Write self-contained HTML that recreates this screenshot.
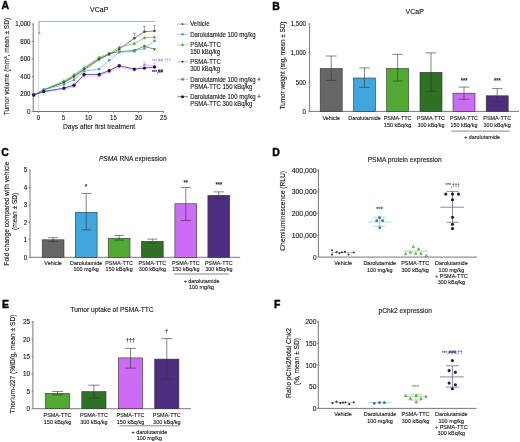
<!DOCTYPE html>
<html><head><meta charset="utf-8"><style>
html,body{margin:0;padding:0;background:#fff;}
body{width:520px;height:442px;overflow:hidden;}
svg{display:block;filter:blur(0.3px);font-family:"Liberation Sans", sans-serif;}
</style></head><body>
<svg width="520" height="442" viewBox="0 0 520 442">
<rect width="520" height="442" fill="#fff"/>
<text transform="translate(5.25 5.50) scale(1 1.05)" y="3.638" font-size="10.5" text-anchor="middle" fill="#000" stroke="#000" stroke-width="0.4" font-weight="bold">A</text>
<text transform="translate(276.00 6.00) scale(1 1.05)" y="3.638" font-size="10.5" text-anchor="middle" fill="#000" stroke="#000" stroke-width="0.4" font-weight="bold">B</text>
<text transform="translate(5.00 152.00) scale(1 1.05)" y="3.638" font-size="10.5" text-anchor="middle" fill="#000" stroke="#000" stroke-width="0.4" font-weight="bold">C</text>
<text transform="translate(276.00 152.30) scale(1 1.05)" y="3.638" font-size="10.5" text-anchor="middle" fill="#000" stroke="#000" stroke-width="0.4" font-weight="bold">D</text>
<text transform="translate(5.40 304.60) scale(1 1.05)" y="3.638" font-size="10.5" text-anchor="middle" fill="#000" stroke="#000" stroke-width="0.4" font-weight="bold">E</text>
<text transform="translate(277.20 304.50) scale(1 1.05)" y="3.638" font-size="10.5" text-anchor="middle" fill="#000" stroke="#000" stroke-width="0.4" font-weight="bold">F</text>
<text transform="translate(99.20 9.50) scale(1 1.1)" y="2.425" font-size="7" text-anchor="middle" fill="#1a1a1a" stroke="#1a1a1a" stroke-width="0.12">VCaP</text>
<line x1="33.20" y1="23.50" x2="33.20" y2="111.50" stroke="#555" stroke-width="0.8"/>
<line x1="31.70" y1="111.50" x2="33.20" y2="111.50" stroke="#555" stroke-width="0.6"/>
<text transform="translate(30.50 111.50) scale(1 1.1)" y="2.114" font-size="6.1" text-anchor="end" fill="#1a1a1a" stroke="#1a1a1a" stroke-width="0.12">0</text>
<line x1="31.70" y1="94.00" x2="33.20" y2="94.00" stroke="#555" stroke-width="0.6"/>
<text transform="translate(30.50 94.00) scale(1 1.1)" y="2.114" font-size="6.1" text-anchor="end" fill="#1a1a1a" stroke="#1a1a1a" stroke-width="0.12">200</text>
<line x1="31.70" y1="76.50" x2="33.20" y2="76.50" stroke="#555" stroke-width="0.6"/>
<text transform="translate(30.50 76.50) scale(1 1.1)" y="2.114" font-size="6.1" text-anchor="end" fill="#1a1a1a" stroke="#1a1a1a" stroke-width="0.12">400</text>
<line x1="31.70" y1="59.00" x2="33.20" y2="59.00" stroke="#555" stroke-width="0.6"/>
<text transform="translate(30.50 59.00) scale(1 1.1)" y="2.114" font-size="6.1" text-anchor="end" fill="#1a1a1a" stroke="#1a1a1a" stroke-width="0.12">600</text>
<line x1="31.70" y1="41.50" x2="33.20" y2="41.50" stroke="#555" stroke-width="0.6"/>
<text transform="translate(30.50 41.50) scale(1 1.1)" y="2.114" font-size="6.1" text-anchor="end" fill="#1a1a1a" stroke="#1a1a1a" stroke-width="0.12">800</text>
<line x1="31.70" y1="24.00" x2="33.20" y2="24.00" stroke="#555" stroke-width="0.6"/>
<text transform="translate(30.50 24.00) scale(1 1.1)" y="2.114" font-size="6.1" text-anchor="end" fill="#1a1a1a" stroke="#1a1a1a" stroke-width="0.12">1,000</text>
<line x1="33.20" y1="111.50" x2="164.00" y2="111.50" stroke="#555" stroke-width="0.8"/>
<line x1="38.50" y1="111.50" x2="38.50" y2="113.00" stroke="#555" stroke-width="0.6"/>
<text transform="translate(38.50 117.30) scale(1 1.1)" y="2.114" font-size="6.1" text-anchor="middle" fill="#1a1a1a" stroke="#1a1a1a" stroke-width="0.12">0</text>
<line x1="63.50" y1="111.50" x2="63.50" y2="113.00" stroke="#555" stroke-width="0.6"/>
<text transform="translate(63.50 117.30) scale(1 1.1)" y="2.114" font-size="6.1" text-anchor="middle" fill="#1a1a1a" stroke="#1a1a1a" stroke-width="0.12">5</text>
<line x1="88.50" y1="111.50" x2="88.50" y2="113.00" stroke="#555" stroke-width="0.6"/>
<text transform="translate(88.50 117.30) scale(1 1.1)" y="2.114" font-size="6.1" text-anchor="middle" fill="#1a1a1a" stroke="#1a1a1a" stroke-width="0.12">10</text>
<line x1="113.50" y1="111.50" x2="113.50" y2="113.00" stroke="#555" stroke-width="0.6"/>
<text transform="translate(113.50 117.30) scale(1 1.1)" y="2.114" font-size="6.1" text-anchor="middle" fill="#1a1a1a" stroke="#1a1a1a" stroke-width="0.12">15</text>
<line x1="138.50" y1="111.50" x2="138.50" y2="113.00" stroke="#555" stroke-width="0.6"/>
<text transform="translate(138.50 117.30) scale(1 1.1)" y="2.114" font-size="6.1" text-anchor="middle" fill="#1a1a1a" stroke="#1a1a1a" stroke-width="0.12">20</text>
<line x1="163.50" y1="111.50" x2="163.50" y2="113.00" stroke="#555" stroke-width="0.6"/>
<text transform="translate(163.50 117.30) scale(1 1.1)" y="2.114" font-size="6.1" text-anchor="middle" fill="#1a1a1a" stroke="#1a1a1a" stroke-width="0.12">25</text>
<text transform="translate(99.10 126.70) scale(1 1.1)" y="2.287" font-size="6.6" text-anchor="middle" fill="#1a1a1a" stroke="#1a1a1a" stroke-width="0.12">Days after first treatment</text>
<text transform="translate(6.60 66.60) rotate(-90)" y="2.270" font-size="6.55" text-anchor="middle" fill="#1a1a1a" stroke="#1a1a1a" stroke-width="0.12">Tumor volume (mm<tspan font-size="4.2" dy="-2">3</tspan><tspan dy="2">, mean ± SD)</tspan></text>
<line x1="38.60" y1="21.50" x2="38.60" y2="111.50" stroke="#aaa" stroke-width="0.5"/>
<line x1="38.60" y1="21.50" x2="155.40" y2="21.50" stroke="#6aa0c8" stroke-width="0.7"/>
<line x1="39.30" y1="22.00" x2="39.30" y2="33.00" stroke="#77b050" stroke-width="0.6"/>
<path d="M39.30,31.80 L40.40,33.80 L38.20,33.80 Z" fill="#77b050" stroke="#77b050" stroke-width="0.45"/>
<polyline points="33.77,95.00 43.83,90.00 63.95,82.00 74.01,76.00 84.07,69.00 99.16,58.50 109.22,54.50 119.28,49.00 134.37,38.30 144.43,31.70 154.49,30.90" fill="none" stroke="#5a5a5a" stroke-width="0.75"/>
<line x1="134.37" y1="33.30" x2="134.37" y2="38.30" stroke="#5a5a5a" stroke-width="0.5"/>
<line x1="132.97" y1="33.30" x2="135.77" y2="33.30" stroke="#5a5a5a" stroke-width="0.5"/>
<line x1="144.43" y1="26.50" x2="144.43" y2="31.70" stroke="#5a5a5a" stroke-width="0.5"/>
<line x1="143.03" y1="26.50" x2="145.83" y2="26.50" stroke="#5a5a5a" stroke-width="0.5"/>
<line x1="154.49" y1="25.60" x2="154.49" y2="30.90" stroke="#5a5a5a" stroke-width="0.5"/>
<line x1="153.09" y1="25.60" x2="155.89" y2="25.60" stroke="#5a5a5a" stroke-width="0.5"/>
<circle cx="33.77" cy="95.00" r="1.25" fill="#444444" stroke="none" stroke-width="0.5"/>
<circle cx="43.83" cy="90.00" r="1.25" fill="#444444" stroke="none" stroke-width="0.5"/>
<circle cx="63.95" cy="82.00" r="1.25" fill="#444444" stroke="none" stroke-width="0.5"/>
<circle cx="74.01" cy="76.00" r="1.25" fill="#444444" stroke="none" stroke-width="0.5"/>
<circle cx="84.07" cy="69.00" r="1.25" fill="#444444" stroke="none" stroke-width="0.5"/>
<circle cx="99.16" cy="58.50" r="1.25" fill="#444444" stroke="none" stroke-width="0.5"/>
<circle cx="109.22" cy="54.50" r="1.25" fill="#444444" stroke="none" stroke-width="0.5"/>
<circle cx="119.28" cy="49.00" r="1.25" fill="#444444" stroke="none" stroke-width="0.5"/>
<circle cx="134.37" cy="38.30" r="1.25" fill="#444444" stroke="none" stroke-width="0.5"/>
<circle cx="144.43" cy="31.70" r="1.25" fill="#444444" stroke="none" stroke-width="0.5"/>
<circle cx="154.49" cy="30.90" r="1.25" fill="#444444" stroke="none" stroke-width="0.5"/>
<polyline points="33.77,95.00 43.83,89.50 63.95,81.00 74.01,74.60 84.07,67.70 99.16,57.30 109.22,53.50 119.28,47.20 134.37,43.50 144.43,37.80 154.49,37.10" fill="none" stroke="#6cbf4c" stroke-width="0.75"/>
<path d="M33.77,93.62 L35.03,95.92 L32.50,95.92 Z" fill="#4f9a37" stroke="#4f9a37" stroke-width="0.45"/>
<path d="M43.83,88.12 L45.09,90.42 L42.56,90.42 Z" fill="#4f9a37" stroke="#4f9a37" stroke-width="0.45"/>
<path d="M63.95,79.62 L65.22,81.92 L62.69,81.92 Z" fill="#4f9a37" stroke="#4f9a37" stroke-width="0.45"/>
<path d="M74.01,73.22 L75.27,75.52 L72.74,75.52 Z" fill="#4f9a37" stroke="#4f9a37" stroke-width="0.45"/>
<path d="M84.07,66.32 L85.33,68.62 L82.80,68.62 Z" fill="#4f9a37" stroke="#4f9a37" stroke-width="0.45"/>
<path d="M99.16,55.92 L100.42,58.22 L97.89,58.22 Z" fill="#4f9a37" stroke="#4f9a37" stroke-width="0.45"/>
<path d="M109.22,52.12 L110.48,54.42 L107.95,54.42 Z" fill="#4f9a37" stroke="#4f9a37" stroke-width="0.45"/>
<path d="M119.28,45.82 L120.55,48.12 L118.02,48.12 Z" fill="#4f9a37" stroke="#4f9a37" stroke-width="0.45"/>
<path d="M134.37,42.12 L135.63,44.42 L133.11,44.42 Z" fill="#4f9a37" stroke="#4f9a37" stroke-width="0.45"/>
<path d="M144.43,36.42 L145.69,38.72 L143.17,38.72 Z" fill="#4f9a37" stroke="#4f9a37" stroke-width="0.45"/>
<path d="M154.49,35.72 L155.75,38.02 L153.23,38.02 Z" fill="#4f9a37" stroke="#4f9a37" stroke-width="0.45"/>
<polyline points="33.77,95.00 43.83,90.00 63.95,82.50 74.01,76.90 84.07,69.80 99.16,59.60 109.22,53.70 119.28,51.60 134.37,50.50 144.43,46.20 154.49,49.30" fill="none" stroke="#3b7d2e" stroke-width="0.75"/>
<path d="M33.77,96.38 L35.03,94.08 L32.50,94.08 Z" fill="#2c6a22" stroke="#2c6a22" stroke-width="0.3"/>
<path d="M43.83,91.38 L45.09,89.08 L42.56,89.08 Z" fill="#2c6a22" stroke="#2c6a22" stroke-width="0.3"/>
<path d="M63.95,83.88 L65.22,81.58 L62.69,81.58 Z" fill="#2c6a22" stroke="#2c6a22" stroke-width="0.3"/>
<path d="M74.01,78.28 L75.27,75.98 L72.74,75.98 Z" fill="#2c6a22" stroke="#2c6a22" stroke-width="0.3"/>
<path d="M84.07,71.18 L85.33,68.88 L82.80,68.88 Z" fill="#2c6a22" stroke="#2c6a22" stroke-width="0.3"/>
<path d="M99.16,60.98 L100.42,58.68 L97.89,58.68 Z" fill="#2c6a22" stroke="#2c6a22" stroke-width="0.3"/>
<path d="M109.22,55.08 L110.48,52.78 L107.95,52.78 Z" fill="#2c6a22" stroke="#2c6a22" stroke-width="0.3"/>
<path d="M119.28,52.98 L120.55,50.68 L118.02,50.68 Z" fill="#2c6a22" stroke="#2c6a22" stroke-width="0.3"/>
<path d="M134.37,51.88 L135.63,49.58 L133.11,49.58 Z" fill="#2c6a22" stroke="#2c6a22" stroke-width="0.3"/>
<path d="M144.43,47.58 L145.69,45.28 L143.17,45.28 Z" fill="#2c6a22" stroke="#2c6a22" stroke-width="0.3"/>
<path d="M154.49,50.68 L155.75,48.38 L153.23,48.38 Z" fill="#2c6a22" stroke="#2c6a22" stroke-width="0.3"/>
<polyline points="33.77,95.00 43.83,90.00 63.95,84.40 74.01,79.80 84.07,71.10 99.16,69.10 109.22,60.20 119.28,52.30 134.37,51.40 144.43,48.50 154.49,40.80" fill="none" stroke="#5cb3e3" stroke-width="0.75"/>
<rect x="32.57" y="93.80" width="2.40" height="2.40" fill="#4a98c8"/>
<rect x="42.63" y="88.80" width="2.40" height="2.40" fill="#4a98c8"/>
<rect x="62.75" y="83.20" width="2.40" height="2.40" fill="#4a98c8"/>
<rect x="72.81" y="78.60" width="2.40" height="2.40" fill="#4a98c8"/>
<rect x="82.87" y="69.90" width="2.40" height="2.40" fill="#4a98c8"/>
<rect x="97.96" y="67.90" width="2.40" height="2.40" fill="#4a98c8"/>
<rect x="108.02" y="59.00" width="2.40" height="2.40" fill="#4a98c8"/>
<rect x="118.08" y="51.10" width="2.40" height="2.40" fill="#4a98c8"/>
<rect x="133.17" y="50.20" width="2.40" height="2.40" fill="#4a98c8"/>
<rect x="143.23" y="47.30" width="2.40" height="2.40" fill="#4a98c8"/>
<rect x="153.29" y="39.60" width="2.40" height="2.40" fill="#4a98c8"/>
<polyline points="33.77,95.00 43.83,92.00 63.95,89.20 74.01,86.40 84.07,76.20 99.16,75.80 109.22,72.00 119.28,67.00 134.37,70.30 144.43,64.75 154.49,66.30" fill="none" stroke="#e0a0f8" stroke-width="0.75"/>
<line x1="119.28" y1="70.50" x2="119.28" y2="67.00" stroke="#e0a0f8" stroke-width="0.5"/>
<line x1="117.88" y1="70.50" x2="120.68" y2="70.50" stroke="#e0a0f8" stroke-width="0.5"/>
<line x1="144.43" y1="61.90" x2="144.43" y2="64.75" stroke="#e0a0f8" stroke-width="0.5"/>
<line x1="143.03" y1="61.90" x2="145.83" y2="61.90" stroke="#e0a0f8" stroke-width="0.5"/>
<line x1="154.49" y1="63.50" x2="154.49" y2="66.30" stroke="#e0a0f8" stroke-width="0.5"/>
<line x1="153.09" y1="63.50" x2="155.89" y2="63.50" stroke="#e0a0f8" stroke-width="0.5"/>
<rect x="32.67" y="93.90" width="2.20" height="2.20" fill="#c878f0"/>
<rect x="42.73" y="90.90" width="2.20" height="2.20" fill="#c878f0"/>
<rect x="62.85" y="88.10" width="2.20" height="2.20" fill="#c878f0"/>
<rect x="72.91" y="85.30" width="2.20" height="2.20" fill="#c878f0"/>
<rect x="82.97" y="75.10" width="2.20" height="2.20" fill="#c878f0"/>
<rect x="98.06" y="74.70" width="2.20" height="2.20" fill="#c878f0"/>
<rect x="108.12" y="70.90" width="2.20" height="2.20" fill="#c878f0"/>
<rect x="118.18" y="65.90" width="2.20" height="2.20" fill="#c878f0"/>
<rect x="133.27" y="69.20" width="2.20" height="2.20" fill="#c878f0"/>
<rect x="143.33" y="63.65" width="2.20" height="2.20" fill="#c878f0"/>
<rect x="153.39" y="65.20" width="2.20" height="2.20" fill="#c878f0"/>
<polyline points="33.77,95.00 43.83,91.50 63.95,88.10 74.01,85.20 84.07,74.40 99.16,74.40 109.22,70.60 119.28,65.60 134.37,69.10 144.43,68.10 154.49,67.10" fill="none" stroke="#3b2470" stroke-width="0.75"/>
<circle cx="33.77" cy="95.00" r="1.7" fill="#2b1155" stroke="none" stroke-width="0.5"/>
<circle cx="43.83" cy="91.50" r="1.7" fill="#2b1155" stroke="none" stroke-width="0.5"/>
<circle cx="63.95" cy="88.10" r="1.7" fill="#2b1155" stroke="none" stroke-width="0.5"/>
<circle cx="74.01" cy="85.20" r="1.7" fill="#2b1155" stroke="none" stroke-width="0.5"/>
<circle cx="84.07" cy="74.40" r="1.7" fill="#2b1155" stroke="none" stroke-width="0.5"/>
<circle cx="99.16" cy="74.40" r="1.7" fill="#2b1155" stroke="none" stroke-width="0.5"/>
<circle cx="109.22" cy="70.60" r="1.7" fill="#2b1155" stroke="none" stroke-width="0.5"/>
<circle cx="119.28" cy="65.60" r="1.7" fill="#2b1155" stroke="none" stroke-width="0.5"/>
<circle cx="134.37" cy="69.10" r="1.7" fill="#2b1155" stroke="none" stroke-width="0.5"/>
<circle cx="144.43" cy="68.10" r="1.7" fill="#2b1155" stroke="none" stroke-width="0.5"/>
<circle cx="154.49" cy="67.10" r="1.7" fill="#2b1155" stroke="none" stroke-width="0.5"/>
<text transform="translate(151.90 60.50) scale(1 1.1)" y="1.490" font-size="4.3" text-anchor="start" fill="#b46ae6"><tspan dy="0.9">***</tspan><tspan dy="-0.9">,##,†††</tspan></text>
<text transform="translate(151.90 71.70) scale(1 1.1)" y="1.490" font-size="4.3" text-anchor="start" fill="#2b1155" stroke="#2b1155" stroke-width="0.15"><tspan dy="0.9">***</tspan><tspan dy="-0.9">,##</tspan></text>
<line x1="177.40" y1="24.10" x2="188.00" y2="24.10" stroke="#8a8a8a" stroke-width="0.7"/>
<circle cx="182.50" cy="24.10" r="0.9" fill="#333333" stroke="none" stroke-width="0.5"/>
<text transform="translate(190.20 24.10) scale(1 1.1)" y="2.079" font-size="6.0" text-anchor="start" fill="#1a1a1a" stroke="#1a1a1a" stroke-width="0.12">Vehicle</text>
<line x1="177.40" y1="34.30" x2="188.00" y2="34.30" stroke="#6ab4e4" stroke-width="0.7"/>
<rect x="181.40" y="33.20" width="2.20" height="2.20" fill="#4a90c4"/>
<text transform="translate(190.20 34.30) scale(1 1.1)" y="2.079" font-size="6.0" text-anchor="start" fill="#1a1a1a" stroke="#1a1a1a" stroke-width="0.12">Darolutamide 100 mg/kg</text>
<line x1="177.40" y1="44.70" x2="188.00" y2="44.70" stroke="#8fd07a" stroke-width="0.7"/>
<path d="M182.50,43.50 L183.60,45.50 L181.40,45.50 Z" fill="#3f8a2c" stroke="#3f8a2c" stroke-width="0.45"/>
<text transform="translate(190.20 44.70) scale(1 1.1)" y="2.079" font-size="6.0" text-anchor="start" fill="#1a1a1a" stroke="#1a1a1a" stroke-width="0.12">PSMA-TTC</text>
<text transform="translate(190.20 51.80) scale(1 1.1)" y="2.079" font-size="6.0" text-anchor="start" fill="#1a1a1a" stroke="#1a1a1a" stroke-width="0.12">150 kBq/kg</text>
<line x1="177.40" y1="61.80" x2="188.00" y2="61.80" stroke="#8aa882" stroke-width="0.7"/>
<path d="M182.50,63.00 L183.60,61.00 L181.40,61.00 Z" fill="#24561c" stroke="#24561c" stroke-width="0.3"/>
<text transform="translate(190.20 61.80) scale(1 1.1)" y="2.079" font-size="6.0" text-anchor="start" fill="#1a1a1a" stroke="#1a1a1a" stroke-width="0.12">PSMA-TTC</text>
<text transform="translate(190.20 68.90) scale(1 1.1)" y="2.079" font-size="6.0" text-anchor="start" fill="#1a1a1a" stroke="#1a1a1a" stroke-width="0.12">300 kBq/kg</text>
<line x1="177.40" y1="79.30" x2="188.00" y2="79.30" stroke="#d898f2" stroke-width="0.7"/>
<rect x="181.30" y="78.10" width="2.40" height="2.40" fill="#9050c8"/>
<text transform="translate(190.20 79.30) scale(1 1.1)" y="2.079" font-size="6.0" text-anchor="start" fill="#1a1a1a" stroke="#1a1a1a" stroke-width="0.12">Darolutamide 100 mg/kg +</text>
<text transform="translate(190.20 86.40) scale(1 1.1)" y="2.079" font-size="6.0" text-anchor="start" fill="#1a1a1a" stroke="#1a1a1a" stroke-width="0.12">PSMA-TTC 150 kBq/kg</text>
<line x1="177.40" y1="96.70" x2="188.00" y2="96.70" stroke="#4a4070" stroke-width="0.7"/>
<circle cx="182.50" cy="96.70" r="1.5" fill="#1c1040" stroke="none" stroke-width="0.5"/>
<text transform="translate(190.20 96.70) scale(1 1.1)" y="2.079" font-size="6.0" text-anchor="start" fill="#1a1a1a" stroke="#1a1a1a" stroke-width="0.12">Darolutamide 100 mg/kg +</text>
<text transform="translate(190.20 103.80) scale(1 1.1)" y="2.079" font-size="6.0" text-anchor="start" fill="#1a1a1a" stroke="#1a1a1a" stroke-width="0.12">PSMA-TTC 300 kBq/kg</text>
<text transform="translate(414.70 11.00) scale(1 1.1)" y="2.425" font-size="7" text-anchor="middle" fill="#1a1a1a" stroke="#1a1a1a" stroke-width="0.12">VCaP</text>
<line x1="309.60" y1="23.50" x2="309.60" y2="111.40" stroke="#555" stroke-width="0.8"/>
<line x1="308.10" y1="111.40" x2="309.60" y2="111.40" stroke="#555" stroke-width="0.6"/>
<text transform="translate(306.00 111.40) scale(1 1.1)" y="2.114" font-size="6.1" text-anchor="end" fill="#1a1a1a" stroke="#1a1a1a" stroke-width="0.12">0</text>
<line x1="308.10" y1="82.20" x2="309.60" y2="82.20" stroke="#555" stroke-width="0.6"/>
<text transform="translate(306.00 82.20) scale(1 1.1)" y="2.114" font-size="6.1" text-anchor="end" fill="#1a1a1a" stroke="#1a1a1a" stroke-width="0.12">500</text>
<line x1="308.10" y1="53.00" x2="309.60" y2="53.00" stroke="#555" stroke-width="0.6"/>
<text transform="translate(306.00 53.00) scale(1 1.1)" y="2.114" font-size="6.1" text-anchor="end" fill="#1a1a1a" stroke="#1a1a1a" stroke-width="0.12">1,000</text>
<line x1="308.10" y1="23.80" x2="309.60" y2="23.80" stroke="#555" stroke-width="0.6"/>
<text transform="translate(306.00 23.80) scale(1 1.1)" y="2.114" font-size="6.1" text-anchor="end" fill="#1a1a1a" stroke="#1a1a1a" stroke-width="0.12">1,500</text>
<line x1="309.60" y1="111.40" x2="519.00" y2="111.40" stroke="#555" stroke-width="0.8"/>
<text transform="translate(283.00 65.50) rotate(-90)" y="2.183" font-size="6.3" text-anchor="middle" fill="#1a1a1a" stroke="#1a1a1a" stroke-width="0.12">Tumor weight (mg, mean ± SD)</text>
<rect x="320.20" y="68.50" width="22.00" height="42.90" fill="#666666" stroke="#333" stroke-width="0.6"/>
<line x1="331.20" y1="56.00" x2="331.20" y2="80.40" stroke="#333" stroke-width="0.6"/>
<line x1="325.90" y1="56.00" x2="336.50" y2="56.00" stroke="#333" stroke-width="0.6"/>
<line x1="325.90" y1="80.40" x2="336.50" y2="80.40" stroke="#333" stroke-width="0.6"/>
<rect x="353.50" y="78.00" width="22.00" height="33.40" fill="#41a6dd" stroke="#333" stroke-width="0.6"/>
<line x1="364.50" y1="67.90" x2="364.50" y2="87.30" stroke="#333" stroke-width="0.6"/>
<line x1="359.20" y1="67.90" x2="369.80" y2="67.90" stroke="#333" stroke-width="0.6"/>
<line x1="359.20" y1="87.30" x2="369.80" y2="87.30" stroke="#333" stroke-width="0.6"/>
<rect x="386.60" y="68.50" width="22.00" height="42.90" fill="#52aa35" stroke="#333" stroke-width="0.6"/>
<line x1="397.60" y1="54.40" x2="397.60" y2="81.00" stroke="#333" stroke-width="0.6"/>
<line x1="392.30" y1="54.40" x2="402.90" y2="54.40" stroke="#333" stroke-width="0.6"/>
<line x1="392.30" y1="81.00" x2="402.90" y2="81.00" stroke="#333" stroke-width="0.6"/>
<rect x="420.00" y="72.30" width="22.00" height="39.10" fill="#2e7024" stroke="#333" stroke-width="0.6"/>
<line x1="431.00" y1="52.90" x2="431.00" y2="91.30" stroke="#333" stroke-width="0.6"/>
<line x1="425.70" y1="52.90" x2="436.30" y2="52.90" stroke="#333" stroke-width="0.6"/>
<line x1="425.70" y1="91.30" x2="436.30" y2="91.30" stroke="#333" stroke-width="0.6"/>
<rect x="453.00" y="93.20" width="22.00" height="18.20" fill="#cc6cf5" stroke="#333" stroke-width="0.6"/>
<line x1="464.00" y1="87.10" x2="464.00" y2="99.30" stroke="#333" stroke-width="0.6"/>
<line x1="458.70" y1="87.10" x2="469.30" y2="87.10" stroke="#333" stroke-width="0.6"/>
<line x1="458.70" y1="99.30" x2="469.30" y2="99.30" stroke="#333" stroke-width="0.6"/>
<rect x="486.20" y="95.80" width="22.00" height="15.60" fill="#4e2d80" stroke="#333" stroke-width="0.6"/>
<line x1="497.20" y1="88.60" x2="497.20" y2="102.00" stroke="#333" stroke-width="0.6"/>
<line x1="491.90" y1="88.60" x2="502.50" y2="88.60" stroke="#333" stroke-width="0.6"/>
<line x1="491.90" y1="102.00" x2="502.50" y2="102.00" stroke="#333" stroke-width="0.6"/>
<text transform="translate(464.00 80.30) scale(1 1.1)" y="2.010" font-size="5.8" text-anchor="middle" fill="#1a1a1a" stroke="#1a1a1a" stroke-width="0.15">***</text>
<text transform="translate(497.30 80.30) scale(1 1.1)" y="2.010" font-size="5.8" text-anchor="middle" fill="#1a1a1a" stroke="#1a1a1a" stroke-width="0.15">***</text>
<text transform="translate(331.20 118.20) scale(1 1.1)" y="1.888" font-size="5.45" text-anchor="middle" fill="#1a1a1a" stroke="#1a1a1a" stroke-width="0.12">Vehicle</text>
<text transform="translate(364.50 118.20) scale(1 1.1)" y="1.888" font-size="5.45" text-anchor="middle" fill="#1a1a1a" stroke="#1a1a1a" stroke-width="0.12">Darolutamide</text>
<text transform="translate(397.60 118.20) scale(1 1.1)" y="1.888" font-size="5.45" text-anchor="middle" fill="#1a1a1a" stroke="#1a1a1a" stroke-width="0.12">PSMA-TTC</text>
<text transform="translate(397.60 124.60) scale(1 1.1)" y="1.888" font-size="5.45" text-anchor="middle" fill="#1a1a1a" stroke="#1a1a1a" stroke-width="0.12">150 kBq/kg</text>
<text transform="translate(431.00 118.20) scale(1 1.1)" y="1.888" font-size="5.45" text-anchor="middle" fill="#1a1a1a" stroke="#1a1a1a" stroke-width="0.12">PSMA-TTC</text>
<text transform="translate(431.00 124.60) scale(1 1.1)" y="1.888" font-size="5.45" text-anchor="middle" fill="#1a1a1a" stroke="#1a1a1a" stroke-width="0.12">300 kBq/kg</text>
<text transform="translate(464.00 118.20) scale(1 1.1)" y="1.888" font-size="5.45" text-anchor="middle" fill="#1a1a1a" stroke="#1a1a1a" stroke-width="0.12">PSMA-TTC</text>
<text transform="translate(464.00 124.60) scale(1 1.1)" y="1.888" font-size="5.45" text-anchor="middle" fill="#1a1a1a" stroke="#1a1a1a" stroke-width="0.12">150 kBq/kg</text>
<text transform="translate(497.20 118.20) scale(1 1.1)" y="1.888" font-size="5.45" text-anchor="middle" fill="#1a1a1a" stroke="#1a1a1a" stroke-width="0.12">PSMA-TTC</text>
<text transform="translate(497.20 124.60) scale(1 1.1)" y="1.888" font-size="5.45" text-anchor="middle" fill="#1a1a1a" stroke="#1a1a1a" stroke-width="0.12">300 kBq/kg</text>
<line x1="451.20" y1="131.10" x2="509.70" y2="131.10" stroke="#555" stroke-width="0.7"/>
<text transform="translate(482.00 137.00) scale(1 1.1)" y="1.871" font-size="5.4" text-anchor="middle" fill="#1a1a1a" stroke="#1a1a1a" stroke-width="0.12">+ darolutamide</text>
<text transform="translate(132.80 158.50) scale(1 1.1)" y="2.287" font-size="6.6" text-anchor="middle" fill="#1a1a1a" stroke="#1a1a1a" stroke-width="0.12"><tspan font-style="italic">PSMA</tspan> RNA expression</text>
<line x1="30.00" y1="169.50" x2="30.00" y2="257.30" stroke="#555" stroke-width="0.8"/>
<line x1="28.50" y1="257.30" x2="30.00" y2="257.30" stroke="#555" stroke-width="0.6"/>
<text transform="translate(27.20 257.30) scale(1 1.1)" y="2.148" font-size="6.2" text-anchor="end" fill="#1a1a1a" stroke="#1a1a1a" stroke-width="0.12">0</text>
<line x1="28.50" y1="239.80" x2="30.00" y2="239.80" stroke="#555" stroke-width="0.6"/>
<text transform="translate(27.20 239.80) scale(1 1.1)" y="2.148" font-size="6.2" text-anchor="end" fill="#1a1a1a" stroke="#1a1a1a" stroke-width="0.12">1</text>
<line x1="28.50" y1="222.30" x2="30.00" y2="222.30" stroke="#555" stroke-width="0.6"/>
<text transform="translate(27.20 222.30) scale(1 1.1)" y="2.148" font-size="6.2" text-anchor="end" fill="#1a1a1a" stroke="#1a1a1a" stroke-width="0.12">2</text>
<line x1="28.50" y1="204.80" x2="30.00" y2="204.80" stroke="#555" stroke-width="0.6"/>
<text transform="translate(27.20 204.80) scale(1 1.1)" y="2.148" font-size="6.2" text-anchor="end" fill="#1a1a1a" stroke="#1a1a1a" stroke-width="0.12">3</text>
<line x1="28.50" y1="187.30" x2="30.00" y2="187.30" stroke="#555" stroke-width="0.6"/>
<text transform="translate(27.20 187.30) scale(1 1.1)" y="2.148" font-size="6.2" text-anchor="end" fill="#1a1a1a" stroke="#1a1a1a" stroke-width="0.12">4</text>
<line x1="28.50" y1="169.80" x2="30.00" y2="169.80" stroke="#555" stroke-width="0.6"/>
<text transform="translate(27.20 169.80) scale(1 1.1)" y="2.148" font-size="6.2" text-anchor="end" fill="#1a1a1a" stroke="#1a1a1a" stroke-width="0.12">5</text>
<line x1="30.00" y1="257.30" x2="240.20" y2="257.30" stroke="#555" stroke-width="0.8"/>
<text transform="translate(7.00 213.60) rotate(-90)" y="2.304" font-size="6.65" text-anchor="middle" fill="#1a1a1a" stroke="#1a1a1a" stroke-width="0.12">Fold change compared with vehicle</text>
<text transform="translate(14.30 211.40) rotate(-90)" y="2.287" font-size="6.6" text-anchor="middle" fill="#1a1a1a" stroke="#1a1a1a" stroke-width="0.12">(mean ± SD)</text>
<rect x="42.20" y="239.80" width="21.80" height="17.50" fill="#666666" stroke="#333" stroke-width="0.6"/>
<line x1="53.10" y1="237.70" x2="53.10" y2="241.55" stroke="#333" stroke-width="0.6"/>
<line x1="48.10" y1="237.70" x2="58.10" y2="237.70" stroke="#333" stroke-width="0.6"/>
<line x1="48.10" y1="241.55" x2="58.10" y2="241.55" stroke="#333" stroke-width="0.6"/>
<rect x="75.30" y="212.33" width="21.80" height="44.97" fill="#41a6dd" stroke="#333" stroke-width="0.6"/>
<line x1="86.20" y1="193.43" x2="86.20" y2="229.83" stroke="#333" stroke-width="0.6"/>
<line x1="81.20" y1="193.43" x2="91.20" y2="193.43" stroke="#333" stroke-width="0.6"/>
<line x1="81.20" y1="229.83" x2="91.20" y2="229.83" stroke="#333" stroke-width="0.6"/>
<rect x="108.20" y="238.23" width="21.80" height="19.07" fill="#52aa35" stroke="#333" stroke-width="0.6"/>
<line x1="119.10" y1="235.43" x2="119.10" y2="240.15" stroke="#333" stroke-width="0.6"/>
<line x1="114.10" y1="235.43" x2="124.10" y2="235.43" stroke="#333" stroke-width="0.6"/>
<line x1="114.10" y1="240.15" x2="124.10" y2="240.15" stroke="#333" stroke-width="0.6"/>
<rect x="141.40" y="241.38" width="21.80" height="15.93" fill="#2e7024" stroke="#333" stroke-width="0.6"/>
<line x1="152.30" y1="239.10" x2="152.30" y2="242.78" stroke="#333" stroke-width="0.6"/>
<line x1="147.30" y1="239.10" x2="157.30" y2="239.10" stroke="#333" stroke-width="0.6"/>
<line x1="147.30" y1="242.78" x2="157.30" y2="242.78" stroke="#333" stroke-width="0.6"/>
<rect x="174.90" y="203.75" width="21.80" height="53.55" fill="#cc6cf5" stroke="#333" stroke-width="0.6"/>
<line x1="185.80" y1="187.48" x2="185.80" y2="220.55" stroke="#333" stroke-width="0.6"/>
<line x1="180.80" y1="187.48" x2="190.80" y2="187.48" stroke="#333" stroke-width="0.6"/>
<line x1="180.80" y1="220.55" x2="190.80" y2="220.55" stroke="#333" stroke-width="0.6"/>
<rect x="207.90" y="195.35" width="21.80" height="61.95" fill="#4e2d80" stroke="#333" stroke-width="0.6"/>
<line x1="218.80" y1="191.85" x2="218.80" y2="198.50" stroke="#333" stroke-width="0.6"/>
<line x1="213.80" y1="191.85" x2="223.80" y2="191.85" stroke="#333" stroke-width="0.6"/>
<line x1="213.80" y1="198.50" x2="223.80" y2="198.50" stroke="#333" stroke-width="0.6"/>
<text transform="translate(86.20 186.80) scale(1 1.1)" y="2.010" font-size="5.8" text-anchor="middle" fill="#1a1a1a" stroke="#1a1a1a" stroke-width="0.15">*</text>
<text transform="translate(185.80 182.30) scale(1 1.1)" y="2.010" font-size="5.8" text-anchor="middle" fill="#1a1a1a" stroke="#1a1a1a" stroke-width="0.15">**</text>
<text transform="translate(218.80 184.60) scale(1 1.1)" y="2.010" font-size="5.8" text-anchor="middle" fill="#1a1a1a" stroke="#1a1a1a" stroke-width="0.15">***</text>
<text transform="translate(53.10 262.90) scale(1 1.1)" y="1.888" font-size="5.45" text-anchor="middle" fill="#1a1a1a" stroke="#1a1a1a" stroke-width="0.12">Vehicle</text>
<text transform="translate(86.20 262.90) scale(1 1.1)" y="1.888" font-size="5.45" text-anchor="middle" fill="#1a1a1a" stroke="#1a1a1a" stroke-width="0.12">Darolutamide</text>
<text transform="translate(86.20 269.40) scale(1 1.1)" y="1.888" font-size="5.45" text-anchor="middle" fill="#1a1a1a" stroke="#1a1a1a" stroke-width="0.12">100 mg/kg</text>
<text transform="translate(119.10 262.90) scale(1 1.1)" y="1.888" font-size="5.45" text-anchor="middle" fill="#1a1a1a" stroke="#1a1a1a" stroke-width="0.12">PSMA-TTC</text>
<text transform="translate(119.10 269.40) scale(1 1.1)" y="1.888" font-size="5.45" text-anchor="middle" fill="#1a1a1a" stroke="#1a1a1a" stroke-width="0.12">150 kBq/kg</text>
<text transform="translate(152.30 262.90) scale(1 1.1)" y="1.888" font-size="5.45" text-anchor="middle" fill="#1a1a1a" stroke="#1a1a1a" stroke-width="0.12">PSMA-TTC</text>
<text transform="translate(152.30 269.40) scale(1 1.1)" y="1.888" font-size="5.45" text-anchor="middle" fill="#1a1a1a" stroke="#1a1a1a" stroke-width="0.12">300 kBq/kg</text>
<text transform="translate(185.80 262.90) scale(1 1.1)" y="1.888" font-size="5.45" text-anchor="middle" fill="#1a1a1a" stroke="#1a1a1a" stroke-width="0.12">PSMA-TTC</text>
<text transform="translate(185.80 269.40) scale(1 1.1)" y="1.888" font-size="5.45" text-anchor="middle" fill="#1a1a1a" stroke="#1a1a1a" stroke-width="0.12">150 kBq/kg</text>
<text transform="translate(218.80 262.90) scale(1 1.1)" y="1.888" font-size="5.45" text-anchor="middle" fill="#1a1a1a" stroke="#1a1a1a" stroke-width="0.12">PSMA-TTC</text>
<text transform="translate(218.80 269.40) scale(1 1.1)" y="1.888" font-size="5.45" text-anchor="middle" fill="#1a1a1a" stroke="#1a1a1a" stroke-width="0.12">300 kBq/kg</text>
<line x1="173.90" y1="274.00" x2="228.80" y2="274.00" stroke="#555" stroke-width="0.7"/>
<text transform="translate(201.50 280.80) scale(1 1.1)" y="1.871" font-size="5.4" text-anchor="middle" fill="#1a1a1a" stroke="#1a1a1a" stroke-width="0.12">+ darolutamide</text>
<text transform="translate(201.50 287.40) scale(1 1.1)" y="1.871" font-size="5.4" text-anchor="middle" fill="#1a1a1a" stroke="#1a1a1a" stroke-width="0.12">100 mg/kg</text>
<text transform="translate(404.70 159.40) scale(1 1.1)" y="2.287" font-size="6.6" text-anchor="middle" fill="#1a1a1a" stroke="#1a1a1a" stroke-width="0.12">PSMA protein expression</text>
<line x1="318.40" y1="169.50" x2="318.40" y2="257.10" stroke="#555" stroke-width="0.8"/>
<line x1="316.90" y1="257.10" x2="318.40" y2="257.10" stroke="#555" stroke-width="0.6"/>
<text transform="translate(316.60 257.10) scale(1 1.1)" y="2.391" font-size="6.9" text-anchor="end" fill="#1a1a1a" stroke="#1a1a1a" stroke-width="0.12">0</text>
<line x1="316.90" y1="235.35" x2="318.40" y2="235.35" stroke="#555" stroke-width="0.6"/>
<text transform="translate(316.60 235.35) scale(1 1.1)" y="2.391" font-size="6.9" text-anchor="end" fill="#1a1a1a" stroke="#1a1a1a" stroke-width="0.12">100,000</text>
<line x1="316.90" y1="213.60" x2="318.40" y2="213.60" stroke="#555" stroke-width="0.6"/>
<text transform="translate(316.60 213.60) scale(1 1.1)" y="2.391" font-size="6.9" text-anchor="end" fill="#1a1a1a" stroke="#1a1a1a" stroke-width="0.12">200,000</text>
<line x1="316.90" y1="191.85" x2="318.40" y2="191.85" stroke="#555" stroke-width="0.6"/>
<text transform="translate(316.60 191.85) scale(1 1.1)" y="2.391" font-size="6.9" text-anchor="end" fill="#1a1a1a" stroke="#1a1a1a" stroke-width="0.12">300,000</text>
<line x1="316.90" y1="170.10" x2="318.40" y2="170.10" stroke="#555" stroke-width="0.6"/>
<text transform="translate(316.60 170.10) scale(1 1.1)" y="2.391" font-size="6.9" text-anchor="end" fill="#1a1a1a" stroke="#1a1a1a" stroke-width="0.12">400,000</text>
<line x1="318.40" y1="257.10" x2="477.00" y2="257.10" stroke="#555" stroke-width="0.8"/>
<text transform="translate(282.80 210.90) rotate(-90)" y="2.322" font-size="6.7" text-anchor="middle" fill="#1a1a1a" stroke="#1a1a1a" stroke-width="0.12">Chemiluminescence (RLU)</text>
<line x1="331.50" y1="252.50" x2="354.50" y2="252.50" stroke="#777" stroke-width="0.5"/>
<circle cx="332.00" cy="250.30" r="1.05" fill="#3a3a3a" stroke="none" stroke-width="0.5"/>
<circle cx="332.00" cy="254.60" r="1.05" fill="#3a3a3a" stroke="none" stroke-width="0.5"/>
<circle cx="336.50" cy="252.00" r="1.05" fill="#3a3a3a" stroke="none" stroke-width="0.5"/>
<circle cx="339.50" cy="253.30" r="1.05" fill="#3a3a3a" stroke="none" stroke-width="0.5"/>
<circle cx="342.00" cy="252.30" r="1.05" fill="#3a3a3a" stroke="none" stroke-width="0.5"/>
<circle cx="345.00" cy="251.80" r="1.05" fill="#3a3a3a" stroke="none" stroke-width="0.5"/>
<circle cx="348.50" cy="254.50" r="1.05" fill="#3a3a3a" stroke="none" stroke-width="0.5"/>
<circle cx="353.80" cy="252.50" r="1.05" fill="#3a3a3a" stroke="none" stroke-width="0.5"/>
<line x1="367.90" y1="222.00" x2="391.70" y2="222.00" stroke="#6cc4ea" stroke-width="0.6"/>
<line x1="373.30" y1="217.30" x2="385.80" y2="217.30" stroke="#6cc4ea" stroke-width="0.6"/>
<line x1="373.60" y1="226.10" x2="385.50" y2="226.10" stroke="#6cc4ea" stroke-width="0.6"/>
<line x1="379.60" y1="217.30" x2="379.60" y2="226.10" stroke="#6cc4ea" stroke-width="0.6"/>
<rect x="378.25" y="216.35" width="2.50" height="2.50" fill="#35779f"/>
<rect x="375.45" y="219.35" width="2.50" height="2.50" fill="#35779f"/>
<rect x="381.35" y="219.35" width="2.50" height="2.50" fill="#35779f"/>
<rect x="378.55" y="226.45" width="2.50" height="2.50" fill="#35779f"/>
<text transform="translate(379.60 209.20) scale(1 1.1)" y="1.940" font-size="5.6" text-anchor="middle" fill="#2f7fc8" stroke="#2f7fc8" stroke-width="0.3">***</text>
<line x1="404.00" y1="251.00" x2="428.00" y2="251.00" stroke="#66cc4a" stroke-width="0.6"/>
<path d="M413.30,245.22 L414.56,247.52 L412.04,247.52 Z" fill="#8ad676" stroke="#2a6a22" stroke-width="0.45"/>
<path d="M418.60,247.62 L419.87,249.92 L417.34,249.92 Z" fill="#8ad676" stroke="#2a6a22" stroke-width="0.45"/>
<path d="M410.40,251.02 L411.66,253.32 L409.13,253.32 Z" fill="#8ad676" stroke="#2a6a22" stroke-width="0.45"/>
<path d="M415.70,252.02 L416.96,254.32 L414.44,254.32 Z" fill="#8ad676" stroke="#2a6a22" stroke-width="0.45"/>
<path d="M421.00,252.02 L422.26,254.32 L419.74,254.32 Z" fill="#8ad676" stroke="#2a6a22" stroke-width="0.45"/>
<path d="M405.60,252.42 L406.87,254.72 L404.34,254.72 Z" fill="#8ad676" stroke="#2a6a22" stroke-width="0.45"/>
<path d="M426.30,254.22 L427.56,256.52 L425.04,256.52 Z" fill="#8ad676" stroke="#2a6a22" stroke-width="0.45"/>
<line x1="440.30" y1="207.20" x2="464.10" y2="207.20" stroke="#4a4678" stroke-width="0.65"/>
<line x1="446.60" y1="191.40" x2="458.50" y2="191.40" stroke="#4a4678" stroke-width="0.65"/>
<line x1="446.60" y1="222.30" x2="458.50" y2="222.30" stroke="#4a4678" stroke-width="0.65"/>
<line x1="452.50" y1="191.40" x2="452.50" y2="222.30" stroke="#4a4678" stroke-width="0.65"/>
<circle cx="445.80" cy="194.10" r="1.55" fill="#201850" stroke="none" stroke-width="0.5"/>
<circle cx="452.50" cy="194.10" r="1.55" fill="#201850" stroke="none" stroke-width="0.5"/>
<circle cx="458.50" cy="194.10" r="1.55" fill="#201850" stroke="none" stroke-width="0.5"/>
<circle cx="452.50" cy="199.80" r="1.55" fill="#201850" stroke="none" stroke-width="0.5"/>
<circle cx="452.50" cy="217.20" r="1.55" fill="#201850" stroke="none" stroke-width="0.5"/>
<circle cx="452.50" cy="224.20" r="1.55" fill="#201850" stroke="none" stroke-width="0.5"/>
<circle cx="452.50" cy="228.60" r="1.55" fill="#201850" stroke="none" stroke-width="0.5"/>
<text transform="translate(452.60 184.80) scale(1 1.1)" y="1.594" font-size="4.6" text-anchor="middle" fill="#3a3280" stroke="#3a3280" stroke-width="0.08"><tspan dy="0.8">***</tspan><tspan dy="-0.8">,†††</tspan></text>
<text transform="translate(343.10 263.20) scale(1 1.1)" y="1.906" font-size="5.5" text-anchor="middle" fill="#1a1a1a" stroke="#1a1a1a" stroke-width="0.12">Vehicle</text>
<text transform="translate(379.70 263.20) scale(1 1.1)" y="1.906" font-size="5.5" text-anchor="middle" fill="#1a1a1a" stroke="#1a1a1a" stroke-width="0.12">Darolutamide</text>
<text transform="translate(379.70 269.55) scale(1 1.1)" y="1.906" font-size="5.5" text-anchor="middle" fill="#1a1a1a" stroke="#1a1a1a" stroke-width="0.12">100 mg/kg</text>
<text transform="translate(415.20 263.20) scale(1 1.1)" y="1.906" font-size="5.5" text-anchor="middle" fill="#1a1a1a" stroke="#1a1a1a" stroke-width="0.12">PSMA-TTC</text>
<text transform="translate(415.20 269.55) scale(1 1.1)" y="1.906" font-size="5.5" text-anchor="middle" fill="#1a1a1a" stroke="#1a1a1a" stroke-width="0.12">300 kBq/kg</text>
<text transform="translate(451.40 263.20) scale(1 1.1)" y="1.906" font-size="5.5" text-anchor="middle" fill="#1a1a1a" stroke="#1a1a1a" stroke-width="0.12">Darolutamide</text>
<text transform="translate(451.40 269.55) scale(1 1.1)" y="1.906" font-size="5.5" text-anchor="middle" fill="#1a1a1a" stroke="#1a1a1a" stroke-width="0.12">100 mg/kg</text>
<text transform="translate(451.40 275.90) scale(1 1.1)" y="1.906" font-size="5.5" text-anchor="middle" fill="#1a1a1a" stroke="#1a1a1a" stroke-width="0.12">+ PSMA-TTC</text>
<text transform="translate(451.40 282.25) scale(1 1.1)" y="1.906" font-size="5.5" text-anchor="middle" fill="#1a1a1a" stroke="#1a1a1a" stroke-width="0.12">300 kBq/kg</text>
<text transform="translate(112.00 309.00) scale(1 1.1)" y="2.287" font-size="6.6" text-anchor="middle" fill="#1a1a1a" stroke="#1a1a1a" stroke-width="0.12">Tumor uptake of PSMA-TTC</text>
<line x1="32.90" y1="321.00" x2="32.90" y2="408.70" stroke="#555" stroke-width="0.8"/>
<line x1="31.40" y1="408.70" x2="32.90" y2="408.70" stroke="#555" stroke-width="0.6"/>
<text transform="translate(30.00 408.70) scale(1 1.1)" y="2.218" font-size="6.4" text-anchor="end" fill="#1a1a1a" stroke="#1a1a1a" stroke-width="0.12">0</text>
<line x1="31.40" y1="391.30" x2="32.90" y2="391.30" stroke="#555" stroke-width="0.6"/>
<text transform="translate(30.00 391.30) scale(1 1.1)" y="2.218" font-size="6.4" text-anchor="end" fill="#1a1a1a" stroke="#1a1a1a" stroke-width="0.12">5</text>
<line x1="31.40" y1="373.90" x2="32.90" y2="373.90" stroke="#555" stroke-width="0.6"/>
<text transform="translate(30.00 373.90) scale(1 1.1)" y="2.218" font-size="6.4" text-anchor="end" fill="#1a1a1a" stroke="#1a1a1a" stroke-width="0.12">10</text>
<line x1="31.40" y1="356.50" x2="32.90" y2="356.50" stroke="#555" stroke-width="0.6"/>
<text transform="translate(30.00 356.50) scale(1 1.1)" y="2.218" font-size="6.4" text-anchor="end" fill="#1a1a1a" stroke="#1a1a1a" stroke-width="0.12">15</text>
<line x1="31.40" y1="339.10" x2="32.90" y2="339.10" stroke="#555" stroke-width="0.6"/>
<text transform="translate(30.00 339.10) scale(1 1.1)" y="2.218" font-size="6.4" text-anchor="end" fill="#1a1a1a" stroke="#1a1a1a" stroke-width="0.12">20</text>
<line x1="31.40" y1="321.70" x2="32.90" y2="321.70" stroke="#555" stroke-width="0.6"/>
<text transform="translate(30.00 321.70) scale(1 1.1)" y="2.218" font-size="6.4" text-anchor="end" fill="#1a1a1a" stroke="#1a1a1a" stroke-width="0.12">25</text>
<line x1="32.90" y1="408.70" x2="191.00" y2="408.70" stroke="#555" stroke-width="0.8"/>
<text transform="translate(12.40 364.00) rotate(-90)" y="2.304" font-size="6.65" text-anchor="middle" fill="#1a1a1a" stroke="#1a1a1a" stroke-width="0.12">Thorium-227 (%ID/g, mean ± SD)</text>
<rect x="45.40" y="393.39" width="24.20" height="15.31" fill="#52aa35" stroke="#333" stroke-width="0.6"/>
<line x1="57.50" y1="391.47" x2="57.50" y2="394.78" stroke="#333" stroke-width="0.6"/>
<line x1="51.90" y1="391.47" x2="63.10" y2="391.47" stroke="#333" stroke-width="0.6"/>
<line x1="51.90" y1="394.78" x2="63.10" y2="394.78" stroke="#333" stroke-width="0.6"/>
<rect x="81.80" y="391.65" width="24.20" height="17.05" fill="#2e7024" stroke="#333" stroke-width="0.6"/>
<line x1="93.90" y1="385.21" x2="93.90" y2="398.09" stroke="#333" stroke-width="0.6"/>
<line x1="88.30" y1="385.21" x2="99.50" y2="385.21" stroke="#333" stroke-width="0.6"/>
<line x1="88.30" y1="398.09" x2="99.50" y2="398.09" stroke="#333" stroke-width="0.6"/>
<rect x="118.40" y="357.89" width="24.20" height="50.81" fill="#cc6cf5" stroke="#333" stroke-width="0.6"/>
<line x1="130.50" y1="348.32" x2="130.50" y2="368.16" stroke="#333" stroke-width="0.6"/>
<line x1="124.90" y1="348.32" x2="136.10" y2="348.32" stroke="#333" stroke-width="0.6"/>
<line x1="124.90" y1="368.16" x2="136.10" y2="368.16" stroke="#333" stroke-width="0.6"/>
<rect x="154.70" y="359.11" width="24.20" height="49.59" fill="#4e2d80" stroke="#333" stroke-width="0.6"/>
<line x1="166.80" y1="338.58" x2="166.80" y2="378.77" stroke="#333" stroke-width="0.6"/>
<line x1="161.20" y1="338.58" x2="172.40" y2="338.58" stroke="#333" stroke-width="0.6"/>
<line x1="161.20" y1="378.77" x2="172.40" y2="378.77" stroke="#333" stroke-width="0.6"/>
<text transform="translate(130.50 340.30) scale(1 1.1)" y="1.906" font-size="5.5" text-anchor="middle" fill="#1a1a1a" stroke="#1a1a1a" stroke-width="0.12">†††</text>
<text transform="translate(166.80 331.30) scale(1 1.1)" y="1.906" font-size="5.5" text-anchor="middle" fill="#1a1a1a" stroke="#1a1a1a" stroke-width="0.12">†</text>
<text transform="translate(57.50 414.40) scale(1 1.1)" y="1.906" font-size="5.5" text-anchor="middle" fill="#1a1a1a" stroke="#1a1a1a" stroke-width="0.12">PSMA-TTC</text>
<text transform="translate(57.50 421.40) scale(1 1.1)" y="1.906" font-size="5.5" text-anchor="middle" fill="#1a1a1a" stroke="#1a1a1a" stroke-width="0.12">150 kBq/kg</text>
<text transform="translate(93.90 414.40) scale(1 1.1)" y="1.906" font-size="5.5" text-anchor="middle" fill="#1a1a1a" stroke="#1a1a1a" stroke-width="0.12">PSMA-TTC</text>
<text transform="translate(93.90 421.40) scale(1 1.1)" y="1.906" font-size="5.5" text-anchor="middle" fill="#1a1a1a" stroke="#1a1a1a" stroke-width="0.12">300 kBq/kg</text>
<text transform="translate(130.50 414.40) scale(1 1.1)" y="1.906" font-size="5.5" text-anchor="middle" fill="#1a1a1a" stroke="#1a1a1a" stroke-width="0.12">PSMA-TTC</text>
<text transform="translate(130.50 421.40) scale(1 1.1)" y="1.906" font-size="5.5" text-anchor="middle" fill="#1a1a1a" stroke="#1a1a1a" stroke-width="0.12">150 kBq/kg</text>
<text transform="translate(166.80 414.40) scale(1 1.1)" y="1.906" font-size="5.5" text-anchor="middle" fill="#1a1a1a" stroke="#1a1a1a" stroke-width="0.12">PSMA-TTC</text>
<text transform="translate(166.80 421.40) scale(1 1.1)" y="1.906" font-size="5.5" text-anchor="middle" fill="#1a1a1a" stroke="#1a1a1a" stroke-width="0.12">300 kBq/kg</text>
<line x1="119.40" y1="425.80" x2="179.40" y2="425.80" stroke="#555" stroke-width="0.7"/>
<text transform="translate(149.40 431.60) scale(1 1.1)" y="1.871" font-size="5.4" text-anchor="middle" fill="#1a1a1a" stroke="#1a1a1a" stroke-width="0.12">+ darolutamide</text>
<text transform="translate(149.40 437.60) scale(1 1.1)" y="1.871" font-size="5.4" text-anchor="middle" fill="#1a1a1a" stroke="#1a1a1a" stroke-width="0.12">100 mg/kg</text>
<text transform="translate(405.20 310.00) scale(1 1.1)" y="2.322" font-size="6.7" text-anchor="middle" fill="#1a1a1a" stroke="#1a1a1a" stroke-width="0.12">pChk2 expression</text>
<line x1="318.30" y1="320.50" x2="318.30" y2="408.40" stroke="#555" stroke-width="0.8"/>
<line x1="316.80" y1="408.40" x2="318.30" y2="408.40" stroke="#555" stroke-width="0.6"/>
<text transform="translate(316.40 408.40) scale(1 1.1)" y="2.287" font-size="6.6" text-anchor="end" fill="#1a1a1a" stroke="#1a1a1a" stroke-width="0.12">0</text>
<line x1="316.80" y1="386.75" x2="318.30" y2="386.75" stroke="#555" stroke-width="0.6"/>
<text transform="translate(316.40 386.75) scale(1 1.1)" y="2.287" font-size="6.6" text-anchor="end" fill="#1a1a1a" stroke="#1a1a1a" stroke-width="0.12">50</text>
<line x1="316.80" y1="365.10" x2="318.30" y2="365.10" stroke="#555" stroke-width="0.6"/>
<text transform="translate(316.40 365.10) scale(1 1.1)" y="2.287" font-size="6.6" text-anchor="end" fill="#1a1a1a" stroke="#1a1a1a" stroke-width="0.12">100</text>
<line x1="316.80" y1="343.45" x2="318.30" y2="343.45" stroke="#555" stroke-width="0.6"/>
<text transform="translate(316.40 343.45) scale(1 1.1)" y="2.287" font-size="6.6" text-anchor="end" fill="#1a1a1a" stroke="#1a1a1a" stroke-width="0.12">150</text>
<line x1="316.80" y1="321.80" x2="318.30" y2="321.80" stroke="#555" stroke-width="0.6"/>
<text transform="translate(316.40 321.80) scale(1 1.1)" y="2.287" font-size="6.6" text-anchor="end" fill="#1a1a1a" stroke="#1a1a1a" stroke-width="0.12">200</text>
<line x1="318.30" y1="408.40" x2="476.60" y2="408.40" stroke="#555" stroke-width="0.8"/>
<text transform="translate(288.70 363.00) rotate(-90)" y="2.356" font-size="6.8" text-anchor="middle" fill="#1a1a1a" stroke="#1a1a1a" stroke-width="0.12">Ratio pChk2/total Chk2</text>
<text transform="translate(296.90 361.70) rotate(-90)" y="2.304" font-size="6.65" text-anchor="middle" fill="#1a1a1a" stroke="#1a1a1a" stroke-width="0.12">(%, mean ± SD)</text>
<line x1="332.00" y1="402.70" x2="354.00" y2="402.70" stroke="#777" stroke-width="0.5"/>
<circle cx="332.30" cy="403.10" r="1.1" fill="#3a3a3a" stroke="none" stroke-width="0.5"/>
<circle cx="336.50" cy="401.70" r="1.1" fill="#3a3a3a" stroke="none" stroke-width="0.5"/>
<circle cx="340.40" cy="403.10" r="1.1" fill="#3a3a3a" stroke="none" stroke-width="0.5"/>
<circle cx="343.00" cy="402.60" r="1.1" fill="#3a3a3a" stroke="none" stroke-width="0.5"/>
<circle cx="345.40" cy="402.30" r="1.1" fill="#3a3a3a" stroke="none" stroke-width="0.5"/>
<circle cx="349.20" cy="404.20" r="1.1" fill="#3a3a3a" stroke="none" stroke-width="0.5"/>
<circle cx="353.80" cy="402.30" r="1.1" fill="#3a3a3a" stroke="none" stroke-width="0.5"/>
<line x1="368.10" y1="402.60" x2="391.80" y2="402.60" stroke="#6cc4ea" stroke-width="0.6"/>
<rect x="373.05" y="402.05" width="2.50" height="2.50" fill="#35779f"/>
<rect x="378.25" y="401.35" width="2.50" height="2.50" fill="#35779f"/>
<rect x="383.15" y="401.35" width="2.50" height="2.50" fill="#35779f"/>
<line x1="404.80" y1="396.40" x2="426.80" y2="396.40" stroke="#66cc4a" stroke-width="0.6"/>
<line x1="409.70" y1="394.40" x2="421.90" y2="394.40" stroke="#66cc4a" stroke-width="0.6"/>
<line x1="409.70" y1="400.10" x2="421.90" y2="400.10" stroke="#66cc4a" stroke-width="0.6"/>
<line x1="416.00" y1="394.40" x2="416.00" y2="400.10" stroke="#66cc4a" stroke-width="0.6"/>
<path d="M405.60,394.32 L406.87,396.62 L404.34,396.62 Z" fill="#8ad676" stroke="#2a6a22" stroke-width="0.45"/>
<path d="M426.00,395.12 L427.26,397.42 L424.74,397.42 Z" fill="#8ad676" stroke="#2a6a22" stroke-width="0.45"/>
<path d="M410.50,397.12 L411.76,399.42 L409.24,399.42 Z" fill="#8ad676" stroke="#2a6a22" stroke-width="0.45"/>
<path d="M416.20,394.22 L417.46,396.52 L414.94,396.52 Z" fill="#8ad676" stroke="#2a6a22" stroke-width="0.45"/>
<path d="M421.10,397.12 L422.37,399.42 L419.84,399.42 Z" fill="#8ad676" stroke="#2a6a22" stroke-width="0.45"/>
<path d="M416.20,400.72 L417.46,403.02 L414.94,403.02 Z" fill="#8ad676" stroke="#2a6a22" stroke-width="0.45"/>
<text transform="translate(415.40 386.80) scale(1 1.1)" y="1.940" font-size="5.6" text-anchor="middle" fill="#44b838" stroke="#44b838" stroke-width="0.12">***</text>
<line x1="440.00" y1="376.90" x2="463.80" y2="376.90" stroke="#4a4678" stroke-width="0.65"/>
<line x1="445.90" y1="365.80" x2="458.60" y2="365.80" stroke="#4a4678" stroke-width="0.65"/>
<line x1="445.90" y1="387.10" x2="458.60" y2="387.10" stroke="#4a4678" stroke-width="0.65"/>
<line x1="452.40" y1="365.80" x2="452.40" y2="387.10" stroke="#4a4678" stroke-width="0.65"/>
<circle cx="452.40" cy="360.60" r="1.55" fill="#201850" stroke="none" stroke-width="0.5"/>
<circle cx="449.10" cy="370.60" r="1.55" fill="#201850" stroke="none" stroke-width="0.5"/>
<circle cx="455.40" cy="372.20" r="1.55" fill="#201850" stroke="none" stroke-width="0.5"/>
<circle cx="449.10" cy="383.10" r="1.55" fill="#201850" stroke="none" stroke-width="0.5"/>
<circle cx="455.40" cy="384.80" r="1.55" fill="#201850" stroke="none" stroke-width="0.5"/>
<circle cx="452.40" cy="388.80" r="1.55" fill="#201850" stroke="none" stroke-width="0.5"/>
<text transform="translate(452.30 352.00) scale(1 1.1)" y="1.594" font-size="4.6" text-anchor="middle" fill="#3a3280" stroke="#3a3280" stroke-width="0.08"><tspan dy="0.8">***</tspan><tspan dy="-0.8">,###,††</tspan></text>
<text transform="translate(343.00 414.30) scale(1 1.1)" y="1.906" font-size="5.5" text-anchor="middle" fill="#1a1a1a" stroke="#1a1a1a" stroke-width="0.12">Vehicle</text>
<text transform="translate(380.00 414.30) scale(1 1.1)" y="1.906" font-size="5.5" text-anchor="middle" fill="#1a1a1a" stroke="#1a1a1a" stroke-width="0.12">Darolutamide</text>
<text transform="translate(380.00 420.60) scale(1 1.1)" y="1.906" font-size="5.5" text-anchor="middle" fill="#1a1a1a" stroke="#1a1a1a" stroke-width="0.12">100 mg/kg</text>
<text transform="translate(415.50 414.30) scale(1 1.1)" y="1.906" font-size="5.5" text-anchor="middle" fill="#1a1a1a" stroke="#1a1a1a" stroke-width="0.12">PSMA-TTC</text>
<text transform="translate(415.50 420.60) scale(1 1.1)" y="1.906" font-size="5.5" text-anchor="middle" fill="#1a1a1a" stroke="#1a1a1a" stroke-width="0.12">300 kBq/kg</text>
<text transform="translate(451.30 414.30) scale(1 1.1)" y="1.906" font-size="5.5" text-anchor="middle" fill="#1a1a1a" stroke="#1a1a1a" stroke-width="0.12">Darolutamide</text>
<text transform="translate(451.30 420.60) scale(1 1.1)" y="1.906" font-size="5.5" text-anchor="middle" fill="#1a1a1a" stroke="#1a1a1a" stroke-width="0.12">100 mg/kg</text>
<text transform="translate(451.30 426.90) scale(1 1.1)" y="1.906" font-size="5.5" text-anchor="middle" fill="#1a1a1a" stroke="#1a1a1a" stroke-width="0.12">+ PSMA-TTC</text>
<text transform="translate(451.30 433.20) scale(1 1.1)" y="1.906" font-size="5.5" text-anchor="middle" fill="#1a1a1a" stroke="#1a1a1a" stroke-width="0.12">300 kBq/kg</text>
</svg>
</body></html>
